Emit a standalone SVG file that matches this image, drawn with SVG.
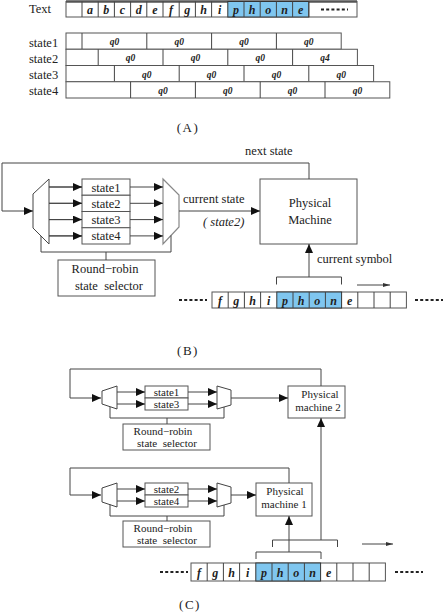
<svg xmlns="http://www.w3.org/2000/svg" width="445" height="613" viewBox="0 0 445 613">
<style>
text{font-family:"Liberation Serif","Times New Roman",serif;fill:#222}
.lbl{font-size:12.5px}
.sm{font-size:11px}
.cap{font-size:13px;letter-spacing:1.5px}
.ch{font-size:12px;font-weight:bold;font-style:italic}
.q{font-size:9.5px;font-weight:bold;font-style:italic}
.cell{fill:#fff;stroke:#555;stroke-width:1}
.blue{fill:#7fc6ef;stroke:#333;stroke-width:1}
.box{fill:#fff;stroke:#555;stroke-width:1}
.ln{fill:none;stroke:#444;stroke-width:1}
.gl{fill:none;stroke:#888;stroke-width:1.2}
.dash{stroke:#222;stroke-width:2;stroke-dasharray:3 2.2}
</style>
<defs>
<marker id="ah" markerUnits="userSpaceOnUse" markerWidth="10" markerHeight="8" refX="9" refY="4" orient="auto">
<path d="M0,0 L9,4 L0,8 Z" fill="#111"/>
</marker>
<marker id="sa" markerUnits="userSpaceOnUse" markerWidth="8" markerHeight="6" refX="7" refY="3" orient="auto">
<path d="M0,1 L7,3 L0,5 Z" fill="#333"/>
</marker>
</defs>

<!-- (A) -->
<g id="partA">
<text class="lbl" x="29" y="13">Text</text>
<g id="tapeA">
<rect class="cell" x="66" y="1.5" width="291" height="15.5"/>
<line x1="66" y1="1.5" x2="357" y2="1.5" stroke="#555" stroke-width="2.5"/>
<rect class="blue" x="227.8" y="1.5" width="81" height="15.5"/>
<g class="ln">
<path d="M82 1.5V17M98.2 1.5V17M114.4 1.5V17M130.6 1.5V17M146.8 1.5V17M163 1.5V17M179.2 1.5V17M195.4 1.5V17M211.6 1.5V17M244 1.5V17M260.2 1.5V17M276.4 1.5V17M292.6 1.5V17M308.8 1.5V17"/>
</g>
<g class="ch" text-anchor="middle">
<text x="90.1" y="14">a</text><text x="106.3" y="14">b</text><text x="122.5" y="14">c</text><text x="138.7" y="14">d</text><text x="154.9" y="14">e</text><text x="171.1" y="14">f</text><text x="187.3" y="14">g</text><text x="203.5" y="14">h</text><text x="219.7" y="14">i</text><text x="235.9" y="14">p</text><text x="252.1" y="14">h</text><text x="268.3" y="14">o</text><text x="284.5" y="14">n</text><text x="300.7" y="14">e</text>
</g>
<line class="dash" x1="321" y1="9.5" x2="348" y2="9.5"/>
</g>
<g id="state1row">
<text class="lbl" x="29" y="47">state1</text>
<rect class="cell" x="66" y="33" width="275.2" height="16.25"/>
<path class="ln" d="M82 33V49.25M146.8 33V49.25M211.6 33V49.25M276.4 33V49.25"/>
<g class="q" text-anchor="middle"><text x="114.4" y="45">q0</text><text x="179.2" y="45">q0</text><text x="244" y="45">q0</text><text x="308.8" y="45">q0</text></g>
</g>
<g id="state2row">
<text class="lbl" x="29" y="63">state2</text>
<rect class="cell" x="66" y="49.25" width="291.4" height="16.25"/>
<path class="ln" d="M98.2 49.25V65.5M163 49.25V65.5M227.8 49.25V65.5M292.6 49.25V65.5"/>
<g class="q" text-anchor="middle"><text x="130.6" y="61.3">q0</text><text x="195.4" y="61.3">q0</text><text x="260.2" y="61.3">q0</text><text x="325" y="61.3">q4</text></g>
</g>
<g id="state3row">
<text class="lbl" x="29" y="79">state3</text>
<rect class="cell" x="66" y="65.5" width="307.6" height="16.25"/>
<path class="ln" d="M114.4 65.5V81.75M179.2 65.5V81.75M244 65.5V81.75M308.8 65.5V81.75"/>
<g class="q" text-anchor="middle"><text x="146.8" y="77.5">q0</text><text x="211.6" y="77.5">q0</text><text x="276.4" y="77.5">q0</text><text x="341.2" y="77.5">q0</text></g>
</g>
<g id="state4row">
<text class="lbl" x="29" y="95">state4</text>
<rect class="cell" x="66" y="81.75" width="323.8" height="16.25"/>
<path class="ln" d="M130.6 81.75V98M195.4 81.75V98M260.2 81.75V98M325 81.75V98"/>
<g class="q" text-anchor="middle"><text x="163" y="93.8">q0</text><text x="227.8" y="93.8">q0</text><text x="292.6" y="93.8">q0</text><text x="357.4" y="93.8">q0</text></g>
</g>
<text class="cap" x="188" y="132" text-anchor="middle">(A)</text>
</g>

<!-- (B) -->
<g id="partB">
<g id="B-demux"><polygon class="ln" points="33,194 49,179 49,244 33,228"/></g>
<g id="B-mux"><polygon class="gl" points="163,179 179,195 179,227 163,244"/></g>
<g id="B-states">
<rect class="box" x="82" y="179" width="48" height="16.25"/>
<rect class="box" x="82" y="195.25" width="48" height="16.25"/>
<rect class="box" x="82" y="211.5" width="48" height="16.25"/>
<rect class="box" x="82" y="227.75" width="48" height="16.25"/>
<g class="lbl" text-anchor="middle">
<text x="106" y="191.5">state1</text><text x="106" y="207.7">state2</text><text x="106" y="224">state3</text><text x="106" y="240.2">state4</text>
</g>
</g>
<g id="B-rr">
<rect class="box" x="58" y="260" width="97" height="36"/>
<text class="lbl" x="105" y="273" text-anchor="middle">Round−robin</text>
<text class="lbl" x="109" y="290" text-anchor="middle" xml:space="preserve">state  selector</text>
</g>
<g id="B-pm">
<rect class="box" x="260" y="179" width="97" height="65"/>
<text class="lbl" x="310" y="207" text-anchor="middle">Physical</text>
<text class="lbl" x="310" y="224" text-anchor="middle">Machine</text>
</g>
<g id="B-tape">
<rect class="cell" x="212" y="292" width="194.4" height="16"/>
<rect class="blue" x="276.8" y="292" width="64.8" height="16"/>
<path class="ln" d="M228.2 292V308M244.4 292V308M260.6 292V308M293 292V308M309.2 292V308M325.4 292V308M357.8 292V308M374 292V308M390.2 292V308"/>
<g class="ch" text-anchor="middle">
<text x="220.1" y="304.5">f</text><text x="236.3" y="304.5">g</text><text x="252.5" y="304.5">h</text><text x="268.7" y="304.5">i</text><text x="284.9" y="304.5">p</text><text x="301.1" y="304.5">h</text><text x="317.3" y="304.5">o</text><text x="333.5" y="304.5">n</text><text x="349.7" y="304.5">e</text>
</g>
<line class="dash" x1="179" y1="300" x2="207" y2="300"/>
<line class="dash" x1="415" y1="300" x2="443" y2="300"/>
</g>
<g id="B-connectors">
<path class="ln" d="M309 179V163H2V211H33" marker-end="url(#ah)"/>
<path class="ln" d="M49 187H82M49 203.3H82M49 219.6H82M49 235.9H82" />
<line class="ln" x1="49" y1="187" x2="82" y2="187" marker-end="url(#ah)"/>
<line class="ln" x1="49" y1="203.3" x2="82" y2="203.3" marker-end="url(#ah)"/>
<line class="ln" x1="49" y1="219.6" x2="82" y2="219.6" marker-end="url(#ah)"/>
<line class="ln" x1="49" y1="235.9" x2="82" y2="235.9" marker-end="url(#ah)"/>
<line class="ln" x1="130" y1="187" x2="163" y2="187" marker-end="url(#ah)"/>
<line class="ln" x1="130" y1="203.3" x2="163" y2="203.3" marker-end="url(#ah)"/>
<line class="ln" x1="130" y1="219.6" x2="163" y2="219.6" marker-end="url(#ah)"/>
<line class="ln" x1="130" y1="235.9" x2="163" y2="235.9" marker-end="url(#ah)"/>
<path class="ln" d="M41 236V252H171V235.5M106 252V260"/>
<line class="ln" x1="179" y1="211" x2="260" y2="211" marker-end="url(#ah)"/>
<path class="ln" d="M276.5 284.5V277H341.5V284.5"/>
<line class="ln" x1="309" y1="277" x2="309" y2="244" marker-end="url(#ah)"/>
<line class="ln" x1="357" y1="285" x2="390" y2="285" marker-end="url(#sa)" stroke-width="0.8"/>
</g>
<text class="lbl" x="245" y="155">next state</text>
<text class="lbl" x="183" y="203">current state</text>
<text class="lbl" x="203" y="226" font-style="italic" xml:space="preserve">( state2)</text>
<text class="lbl" x="317" y="263">current symbol</text>
<text class="cap" x="188" y="355" text-anchor="middle">(B)</text>
</g>

<!-- (C) -->
<g id="partC">
<g id="C-demux2"><polygon class="ln" points="102,391 117,386 117,409 102,404"/></g>
<g id="C-mux2"><polygon class="ln" points="217,386 231,390 231,405 217,409"/></g>
<g id="C-states2">
<rect class="box" x="145" y="386" width="43" height="12"/>
<rect class="box" x="145" y="398" width="43" height="12"/>
<g class="sm" text-anchor="middle"><text x="166.5" y="396">state1</text><text x="166.5" y="408">state3</text></g>
</g>
<g id="C-rr2">
<rect class="box" x="123" y="424" width="87" height="26"/>
<text class="sm" x="163" y="434.5" text-anchor="middle">Round−robin</text>
<text class="sm" x="167" y="446.5" text-anchor="middle" xml:space="preserve">state  selector</text>
</g>
<g id="C-pm2">
<rect class="box" x="288" y="386" width="57" height="32"/>
<text class="sm" x="320" y="398" text-anchor="middle">Physical</text>
<text class="sm" x="318" y="410.5" text-anchor="middle">machine 2</text>
</g>
<g id="C-demux1"><polygon class="ln" points="102,488 117,483 117,507 102,502"/></g>
<g id="C-mux1"><polygon class="ln" points="217,483 231,487 231,503 217,507"/></g>
<g id="C-states1">
<rect class="box" x="145" y="483" width="43" height="12"/>
<rect class="box" x="145" y="495" width="43" height="12"/>
<g class="sm" text-anchor="middle"><text x="166.5" y="493">state2</text><text x="166.5" y="505">state4</text></g>
</g>
<g id="C-rr1">
<rect class="box" x="123" y="521" width="87" height="26"/>
<text class="sm" x="163" y="531.5" text-anchor="middle">Round−robin</text>
<text class="sm" x="167" y="543.5" text-anchor="middle" xml:space="preserve">state  selector</text>
</g>
<g id="C-pm1">
<rect class="box" x="256" y="483" width="56" height="33"/>
<text class="sm" x="285" y="495" text-anchor="middle">Physical</text>
<text class="sm" x="284" y="507.5" text-anchor="middle">machine 1</text>
</g>
<g id="C-tape">
<rect class="cell" x="191" y="563" width="194.4" height="18"/>
<rect class="blue" x="255.8" y="563" width="64.8" height="18"/>
<path class="ln" d="M207.2 563V581M223.4 563V581M239.6 563V581M272 563V581M288.2 563V581M304.4 563V581M336.8 563V581M353 563V581M369.2 563V581"/>
<g class="ch" text-anchor="middle">
<text x="199.1" y="576.5">f</text><text x="215.3" y="576.5">g</text><text x="231.5" y="576.5">h</text><text x="247.7" y="576.5">i</text><text x="263.9" y="576.5">p</text><text x="280.1" y="576.5">h</text><text x="296.3" y="576.5">o</text><text x="312.5" y="576.5">n</text><text x="328.7" y="576.5">e</text>
</g>
<line class="dash" x1="160" y1="572" x2="188" y2="572"/>
<line class="dash" x1="395" y1="572" x2="423" y2="572"/>
</g>
<g id="C-connectors">
<path class="ln" d="M321 386V369H70V398H101" marker-end="url(#ah)"/>
<line class="ln" x1="117" y1="392" x2="145" y2="392" marker-end="url(#ah)"/>
<line class="ln" x1="117" y1="404" x2="145" y2="404" marker-end="url(#ah)"/>
<line class="ln" x1="188" y1="392" x2="217" y2="392" marker-end="url(#ah)"/>
<line class="ln" x1="188" y1="404" x2="217" y2="404" marker-end="url(#ah)"/>
<line class="ln" x1="231" y1="398" x2="288" y2="398" marker-end="url(#ah)"/>
<path class="ln" d="M110 407V418H224V407M167 418V424"/>
<path class="ln" d="M289 483V468H70V495H101" marker-end="url(#ah)"/>
<line class="ln" x1="117" y1="489" x2="145" y2="489" marker-end="url(#ah)"/>
<line class="ln" x1="117" y1="501" x2="145" y2="501" marker-end="url(#ah)"/>
<line class="ln" x1="188" y1="489" x2="217" y2="489" marker-end="url(#ah)"/>
<line class="ln" x1="188" y1="501" x2="217" y2="501" marker-end="url(#ah)"/>
<line class="ln" x1="231" y1="495" x2="256" y2="495" marker-end="url(#ah)"/>
<path class="ln" d="M110 504.5V516H224V505M167 516V521"/>
<path class="ln" d="M256 559V552H321V559"/>
<line class="ln" x1="289" y1="552" x2="289" y2="516" marker-end="url(#ah)"/>
<path class="ln" d="M272.5 547V540H337.5V547"/>
<line class="ln" x1="321" y1="540" x2="321" y2="418" marker-end="url(#ah)"/>
<line class="ln" x1="362" y1="544" x2="393" y2="544" marker-end="url(#sa)" stroke-width="0.8"/>
</g>
<text class="cap" x="190" y="609" text-anchor="middle">(C)</text>
</g>
</svg>
